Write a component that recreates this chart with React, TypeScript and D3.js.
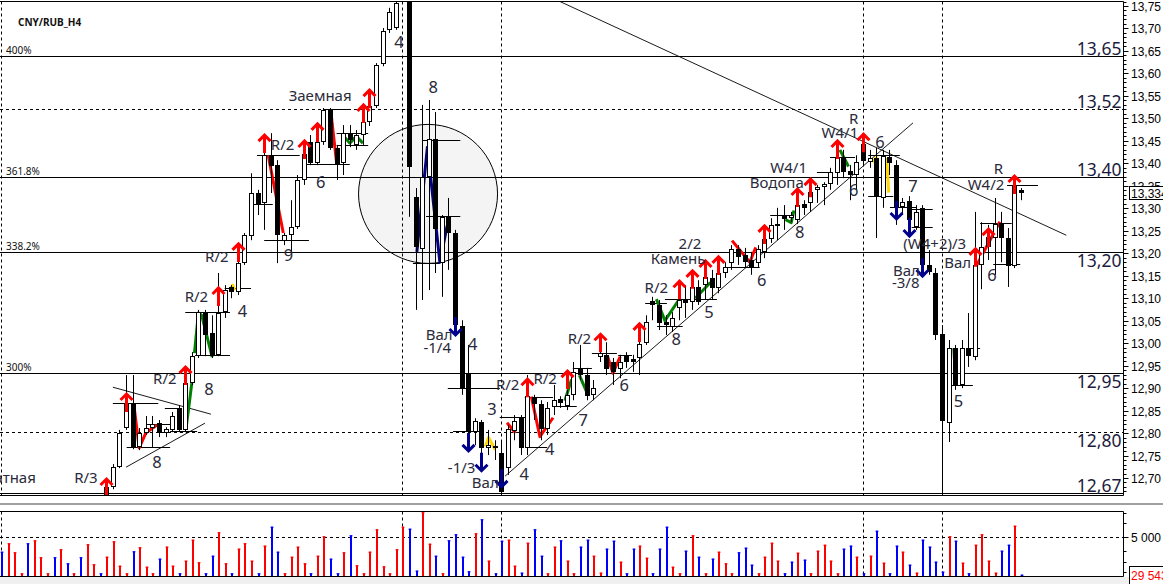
import React from "react";
import * as d3 from "d3";

// ---------- DATA ----------
const START = 16; // first candle visible in the window
const candleOpen = [12.660,12.680,12.724,12.811,12.867,12.769,12.800,12.811,12.822,12.800,12.807,12.856,12.807,12.911,12.971,13.069,13.023,12.974,13.069,13.125,13.114,13.178,13.238,13.334,13.312,13.418,13.396,13.227,13.240,13.258,13.363,13.447,13.401,13.447,13.519,13.434,13.401,13.467,13.441,13.463,13.492,13.527,13.621,13.697,13.701,13.759,13.786,13.325,13.209,13.370,13.454,13.178,13.283,13.245,13.038,12.933,12.802,12.824,12.767,12.771,12.755,12.722,12.804,12.833,12.767,12.880,12.865,12.809,12.858,12.876,12.860,12.885,12.945,12.929,12.885,12.969,12.974,12.958,12.942,12.974,12.965,12.967,13.000,13.094,13.085,13.047,13.036,13.078,13.098,13.091,13.125,13.129,13.145,13.123,13.156,13.178,13.209,13.196,13.185,13.178,13.203,13.232,13.265,13.283,13.278,13.274,13.309,13.312,13.341,13.347,13.354,13.378,13.414,13.383,13.374,13.443,13.403,13.412,13.323,13.414,13.396,13.303,13.316,13.258,13.301,13.174,13.156,13.020,12.822,12.989,12.907,12.989,12.969,13.174,13.214,13.234,13.267,13.234,13.172,13.341];
const candleHigh = [12.687,12.731,12.807,12.929,12.929,12.811,12.838,12.838,12.829,12.813,12.847,12.862,12.929,12.980,13.074,13.074,13.062,13.156,13.129,13.129,13.196,13.245,13.378,13.341,13.425,13.467,13.407,13.245,13.318,13.374,13.430,13.463,13.452,13.523,13.523,13.441,13.485,13.485,13.474,13.501,13.534,13.623,13.701,13.746,13.774,13.819,13.797,13.345,13.530,13.541,13.514,13.285,13.323,13.252,13.051,12.996,12.833,12.829,12.807,12.784,12.784,12.818,12.840,12.840,12.929,12.885,12.873,12.869,12.907,12.882,12.896,12.958,12.996,12.945,12.918,12.996,13.002,12.967,12.974,12.980,12.974,13.014,13.062,13.103,13.096,13.062,13.069,13.107,13.129,13.140,13.140,13.163,13.163,13.174,13.180,13.218,13.218,13.212,13.203,13.218,13.240,13.278,13.301,13.307,13.292,13.314,13.318,13.345,13.352,13.358,13.390,13.434,13.430,13.396,13.418,13.452,13.430,13.434,13.430,13.430,13.407,13.323,13.327,13.307,13.307,13.207,13.167,13.040,13.007,12.996,13.007,13.067,13.292,13.269,13.263,13.323,13.292,13.256,13.356,13.345];
const candleLow = [12.655,12.675,12.722,12.807,12.764,12.762,12.796,12.769,12.791,12.791,12.802,12.802,12.802,12.907,12.967,12.971,12.967,12.971,13.056,13.100,13.107,13.174,13.229,13.285,13.252,13.334,13.178,13.218,13.200,13.254,13.352,13.396,13.396,13.441,13.430,13.363,13.374,13.436,13.430,13.441,13.483,13.523,13.616,13.690,13.697,13.757,13.281,13.074,13.096,13.118,13.156,13.103,13.163,13.029,12.885,12.784,12.773,12.722,12.751,12.740,12.651,12.707,12.784,12.751,12.751,12.829,12.784,12.796,12.840,12.856,12.851,12.873,12.918,12.873,12.873,12.958,12.929,12.907,12.922,12.945,12.936,12.929,12.996,13.051,13.029,13.018,13.025,13.051,13.056,13.074,13.085,13.096,13.096,13.111,13.145,13.163,13.174,13.167,13.152,13.169,13.189,13.223,13.229,13.252,13.269,13.265,13.285,13.292,13.312,13.307,13.341,13.352,13.367,13.318,13.341,13.396,13.390,13.234,13.301,13.374,13.263,13.285,13.263,13.252,13.167,13.152,13.007,12.662,12.780,12.896,12.900,12.947,12.962,13.120,13.185,13.152,13.180,13.125,13.167,13.318];
const candleClose = [12.680,12.724,12.800,12.867,12.769,12.800,12.811,12.820,12.800,12.809,12.838,12.807,12.911,12.971,13.069,13.018,12.971,13.067,13.118,13.114,13.178,13.240,13.334,13.307,13.418,13.394,13.240,13.240,13.258,13.363,13.421,13.401,13.447,13.519,13.434,13.398,13.467,13.452,13.463,13.492,13.527,13.619,13.694,13.737,13.757,13.808,13.392,13.214,13.370,13.454,13.254,13.281,13.245,13.040,12.900,12.802,12.827,12.767,12.773,12.767,12.669,12.809,12.827,12.767,12.882,12.865,12.809,12.856,12.873,12.867,12.885,12.936,12.929,12.882,12.900,12.978,12.942,12.936,12.958,12.958,12.958,12.998,13.047,13.085,13.045,13.040,13.056,13.096,13.089,13.125,13.091,13.147,13.123,13.156,13.169,13.209,13.192,13.180,13.169,13.209,13.232,13.263,13.261,13.276,13.285,13.307,13.301,13.336,13.347,13.354,13.381,13.412,13.381,13.374,13.403,13.405,13.412,13.327,13.416,13.401,13.303,13.314,13.274,13.292,13.174,13.158,13.018,12.827,12.989,12.907,12.989,12.971,13.174,13.214,13.236,13.265,13.234,13.172,13.352,13.334];

const volume = [3140,4230,3060,350,4230,4610,2420,350,2420,3450,1640,350,2420,4100,1510,350,2490,4480,1330,350,3190,3710,1200,350,2240,3790,1330,350,1980,4690,1770,350,2620,5650,1640,350,3530,4230,1980,350,3920,6370,3140,350,2490,3790,1640,350,2620,5130,2240,350,3060,5260,1380,350,3140,6030,1250,350,3450,6370,6110,690,8230,4170,2620,350,4610,5390,2490,610,5520,7330,1980,350,4560,4690,1330,430,4300,6030,2620,350,3790,4610,1980,350,3790,4690,2620,430,3530,4560,1850,350,3530,3920,2360,350,3530,6370,1200,350,3270,5260,2490,350,2240,3140,1640,350,3060,3660,1460,350,2490,4300,1980,350,1850,3010,2110,350,3270,4040,1980,350,3530,3920,2490,350,2620,5850,1720,350,3920,3140,1460,430,4690,3790,1850,560,5130,4560,1720,350,4040,5390,1980,430,3270,4040,6500,170];
const volumeColor = ("BRRRBRRRBR" + "BRBRRBRRRR" + "BRRRBRRBRR" + "RBBRRBRRRB" + "RBBRRRRBRR" + "BBRBRRRRRR" + "RRBBRRBRBB" + "BBRBRBBRRB" + "RBBRRBRRBB" + "RRBBRBBRRB" + "BBRRBRBRBR" + "RRBBBRRRRB" + "BRBRRRRRBB" + "RBRBRBBRBR" + "BBBBRBRBRR" + "RRBBRB").split("");

const priceTicks = d3.range(1266, 1377).map((k) => k / 100);
const volumeTicks = [550, 1850, 3230, 5000, 6810, 8100];

const levelPrice = [13.639, 13.521, 13.370, 13.203, 12.933, 12.802, 12.667];
const levelLabel = ["13,65", "13,52", "13,40", "13,20", "12,95", "12,80", "12,67"];
const levelDashed = [false, true, false, false, false, true, false];
const levelLabelBelow = [false, false, false, true, true, true, false];
const levelPercent = ["400%", "", "361.8%", "338.2%", "300%", "", ""];

const separatorIdx = [0, 61, 76, 131, 143];

const upArrowIdx = [16, 19, 28, 33, 36, 40, 46, 48, 55, 56, 80, 86, 91, 97, 103, 105, 107, 109, 116, 121, 123, 127, 131, 148, 150, 154];
const upArrowPrice = [12.700, 12.889, 12.949, 13.125, 13.223, 13.465, 13.452, 13.490, 13.532, 13.565, 12.922, 12.940, 13.022, 13.045, 13.140, 13.163, 13.185, 13.194, 13.263, 13.345, 13.367, 13.452, 13.467, 13.212, 13.256, 13.374];
const downArrowIdx = [69, 71, 73, 76, 136, 138, 140];
const downArrowPrice = [13.016, 12.758, 12.714, 12.678, 13.274, 13.236, 13.147];

const labels: [string, number, number][] = [
  ["R/3", 12.9, 12.702], ["8", 23.7, 12.736], ["R/2", 24.9, 12.922], ["8", 31.6, 12.9],
  ["R/2", 29.7, 13.105], ["4", 36.7, 13.072], ["R/2", 32.8, 13.194], ["9", 43.7, 13.198],
  ["R/2", 42.8, 13.442], ["6", 48.6, 13.359], ["Заемная", 48.5, 13.552], ["4", 60.5, 13.671],
  ["8", 65.7, 13.57], ["Вал", 66.6, 13.02], ["-1/4", 66.3, 12.992], ["4", 71.7, 13.0],
  ["3", 74.6, 12.855], ["-1/3", 70.0, 12.724], ["Вал", 73.6, 12.692], ["4", 79.5, 12.71],
  ["R/2", 77.0, 12.909], ["R/2", 82.7, 12.922], ["4", 83.4, 12.766], ["7", 88.5, 12.831],
  ["R/2", 87.9, 13.011], ["6", 94.7, 12.907], ["R/2", 99.6, 13.125], ["8", 102.6, 13.011],
  ["5", 107.6, 13.07], ["2/2", 104.7, 13.222], ["Камень", 102.9, 13.189], ["6", 115.6, 13.142],
  ["8", 121.4, 13.248], ["W4/1", 119.7, 13.392], ["Водопа", 117.9, 13.359], ["R", 129.6, 13.501],
  ["W4/1", 127.5, 13.47], ["6", 133.6, 13.448], ["6", 129.6, 13.342], ["7", 138.6, 13.35],
  ["(W4+2)/3", 141.9, 13.222], ["Вал", 137.6, 13.163], ["-3/8", 137.5, 13.137], ["Вал", 145.4, 13.181],
  ["5", 145.5, 12.873], ["6", 150.6, 13.152], ["R", 151.6, 13.389], ["W4/2", 149.7, 13.354],
];
const clippedLabel: [string, number, number] = ["Обратная", 5.3, 12.702];

const levelSegments: [number, number, number][] = [
  [17.0, 23.9, 12.867], [19.1, 25.7, 12.769], [24.9, 27.5, 12.856], [22.2, 25.7, 12.82], [25.7, 29.8, 12.804],
  [28, 34.8, 13.069], [29.5, 34.8, 12.974], [34, 38, 13.123], [38.9, 45.4, 13.418], [38.1, 41.3, 13.309],
  [40, 46.8, 13.229], [46.2, 53, 13.398], [49, 53, 13.521], [51, 55.8, 13.467], [51, 55.8, 13.441],
  [64.1, 69.8, 13.452], [64.6, 69.8, 13.283], [62.6, 66.7, 13.178], [67.9, 75.8, 12.9], [68.7, 73.3, 12.804],
  [75.8, 80.4, 12.836], [79.6, 83.9, 12.88], [84.5, 87.5, 12.86], [86.9, 89.8, 12.945], [79.9, 83, 12.769],
  [89.8, 93.6, 12.978], [93.8, 95.9, 12.974], [97.9, 101.2, 13.089], [99.7, 103.6, 13.038], [100.9, 108.8, 13.098],
  [110.5, 115.3, 13.169], [116.9, 120.4, 13.285], [124, 126, 13.381], [126, 129.8, 13.414], [131.8, 136.6, 13.418],
  [131.8, 135.6, 13.327], [135.1, 139.2, 13.303], [138.4, 141.6, 13.298], [138.4, 141.6, 13.258], [144.2, 147.7, 12.907],
  [146.8, 148.8, 12.989], [148.8, 153.6, 13.267], [150.8, 154.9, 13.176], [152.9, 157.6, 13.352],
];

const redPaths: [number, number][][] = [
  [[20.2, 12.862], [21, 12.767], [22, 12.8], [23.7, 12.818]],
  [[40.6, 13.418], [42.9, 13.245]],
  [[50.1, 13.519], [51, 13.401]],
  [[76.9, 12.823], [78.2, 12.8]],
  [[80.6, 12.881], [81.9, 12.792], [83.9, 12.834]],
  [[92.2, 12.97], [93, 12.933], [94.1, 12.97]],
  [[111.1, 13.228], [113.8, 13.18], [114.7, 13.213]],
  [[148.3, 13.174], [151.8, 13.27]],
];
const greenPaths: [number, number][][] = [
  [[28.1, 12.807], [29, 12.911]],
  [[29.4, 12.978], [30, 13.067], [30.5, 13.062], [32.1, 12.969]],
  [[52, 13.462], [53, 13.445], [54, 13.46], [55, 13.445]],
  [[85.7, 12.872], [86.7, 12.919]],
  [[87.9, 12.929], [89.2, 12.885]],
  [[99.6, 13.098], [100.9, 13.05], [103, 13.096]],
  [[105.5, 13.1], [106.5, 13.115], [107.8, 13.135]],
  [[119.2, 13.275], [120.1, 13.268], [120.5, 13.295]],
  [[127.5, 13.43], [128.8, 13.393]],
  [[144.8, 12.989], [145.1, 12.915]],
];
const bluePaths: [number, number][][] = [
  [[63.2, 13.203], [64.8, 13.436], [66.7, 13.18], [67.8, 13.261]],
];
const yellowPaths: [number, number][][] = [
  [[34.8, 13.118], [35.2, 13.129], [35.5, 13.118]],
  [[73.6, 12.77], [74.1, 12.79], [75.1, 12.763]],
  [[132.4, 13.403], [133.2, 13.415]],
  [[134.6, 13.412], [134.9, 13.335]],
];

const trendLines: [number, number][][] = [
  [[84.5, 13.763], [161.9, 13.24]],
  [[76.6, 12.704], [138.6, 13.49]],
  [[17.0, 12.902], [31.9, 12.842]],
  [[19.0, 12.724], [31.0, 12.822]],
];

const circleCenter: [number, number] = [64.9, 13.332];
const circleRadiusPrice = 0.1546;

const lastPrice = "13,334";
const lastVolume = "29 543";

// ---------- COMPONENT ----------
const FONT = "'Noto Sans', 'DejaVu Sans', sans-serif";
const AXFONT = "'Liberation Sans', Arial, sans-serif";

export default function App() {
  const W = 1163, H = 584;
  const right = 1123.5;
  const mainTop = 1.5, mainBottom = 495.5;
  const volTop = 511.5, volBottom = 576.5;

  const x = d3.scaleLinear().domain([0, 155]).range([1, 1020.9]);
  const y = d3.scaleLinear().domain([12.7, 13.75]).range([478, 6]);
  const vy = d3.scaleLinear().domain([0, 8400]).range([576, 511]);
  const line = d3.line<[number, number]>().x((d) => x(d[0])).y((d) => y(d[1]));
  const crisp = (v: number) => Math.round(v) + 0.5;
  const fmt = (v: number) => d3.format(".2f")(v).replace(".", ",");

  const candles = candleOpen.map((o, k) => ({
    i: START + k, o, h: candleHigh[k], l: candleLow[k], c: candleClose[k],
  }));

  const circleR = y(circleCenter[1] - circleRadiusPrice) - y(circleCenter[1]);

  return (
    <svg width={W} height={H} style={{ position: "absolute", left: 0, top: 0, display: "block", background: "#fff" }}>
      <defs>
        <clipPath id="mainClip"><rect x={0} y={2} width={right} height={mainBottom - 2} /></clipPath>
        <clipPath id="volClip"><rect x={0} y={volTop} width={right} height={volBottom - volTop} /></clipPath>
      </defs>
      <rect x={0} y={0} width={W} height={H} fill="#fff" />

      {/* main panel */}
      <g clipPath="url(#mainClip)">
        <circle cx={x(circleCenter[0])} cy={y(circleCenter[1])} r={circleR} fill="#f4f4f4" stroke="#000" strokeWidth={1} />
        {levelPrice.map((p, k) => (
          <line key={"lv" + k} x1={0} x2={right} y1={crisp(y(p))} y2={crisp(y(p))} stroke="#000" strokeWidth={1} strokeDasharray={levelDashed[k] ? "3,3" : undefined} />
        ))}
        {separatorIdx.map((i, k) => (
          <line key={"sp" + k} x1={crisp(x(i))} x2={crisp(x(i))} y1={mainTop} y2={mainBottom} stroke="#000" strokeDasharray="3,3" />
        ))}
        {trendLines.map((t, k) => (
          <path key={"tl" + k} d={line(t) || ""} stroke="#000" strokeWidth={0.9} fill="none" />
        ))}
        {levelSegments.map(([a, b, p], k) => (
          <line key={"sg" + k} x1={x(a)} x2={x(b)} y1={crisp(y(p))} y2={crisp(y(p))} stroke="#000" strokeWidth={1} />
        ))}
        {redPaths.map((pts, k) => <path key={"rp" + k} d={line(pts) || ""} stroke="#ff0000" strokeWidth={3} fill="none" strokeLinejoin="round" />)}
        {greenPaths.map((pts, k) => <path key={"gp" + k} d={line(pts) || ""} stroke="#008000" strokeWidth={3} fill="none" strokeLinejoin="round" />)}
        {bluePaths.map((pts, k) => <path key={"bp" + k} d={line(pts) || ""} stroke="#000080" strokeWidth={3} fill="none" strokeLinejoin="round" />)}
        {yellowPaths.map((pts, k) => <path key={"yp" + k} d={line(pts) || ""} stroke="#ffd700" strokeWidth={3} fill="none" strokeLinejoin="round" />)}

        {candles.map((d) => {
          const cx = Math.round(x(d.i));
          const top = Math.round(y(Math.max(d.o, d.c)));
          const bot = Math.round(y(Math.min(d.o, d.c)));
          const up = d.c >= d.o;
          const hgt = bot - top;
          return (
            <g key={"c" + d.i}>
              <line x1={cx + 0.5} x2={cx + 0.5} y1={y(d.h)} y2={y(d.l)} stroke="#000" strokeWidth={1} />
              {hgt < 2 ? (
                <rect x={cx - 2} y={top - 0.5} width={5} height={2} fill="#000" />
              ) : up ? (
                <rect x={cx - 1.5} y={top + 0.5} width={4} height={hgt - 1} fill="#fff" stroke="#000" strokeWidth={1} />
              ) : (
                <rect x={cx - 2} y={top} width={5} height={hgt} fill="#000" />
              )}
            </g>
          );
        })}

        {upArrowIdx.map((i, k) => {
          const cx = Math.round(x(i)) + 0.5;
          const ty = y(upArrowPrice[k]);
          return (
            <g key={"ua" + k} stroke="#ff0000" fill="none" strokeWidth={3}>
              <line x1={cx} x2={cx} y1={ty + 2} y2={ty + 19} />
              <path d={`M${cx - 6},${ty + 7} L${cx},${ty + 1} L${cx + 6},${ty + 7}`} strokeLinejoin="miter" />
            </g>
          );
        })}
        {downArrowIdx.map((i, k) => {
          const cx = Math.round(x(i)) + 0.5;
          const ty = y(downArrowPrice[k]);
          return (
            <g key={"da" + k} stroke="#00008b" fill="none" strokeWidth={3}>
              <line x1={cx} x2={cx} y1={ty - 2} y2={ty - 19} />
              <path d={`M${cx - 6},${ty - 7} L${cx},${ty - 1} L${cx + 6},${ty - 7}`} />
            </g>
          );
        })}

        {labels.map(([t, i, p], k) => (
          <text key={"lb" + k} x={x(i)} y={y(p)} textAnchor="middle" dominantBaseline="central"
            fontFamily={FONT} fontSize={/^\d$/.test(t) ? 16.5 : 15} fill="#2a2a3a">{t}</text>
        ))}
        <text x={x(clippedLabel[1])} y={y(clippedLabel[2])} textAnchor="end" dominantBaseline="central" fontFamily={FONT} fontSize={15} fill="#2a2a3a">{clippedLabel[0]}</text>

        {levelPrice.map((p, k) => (
          <text key={"ll" + k} x={right - 2} y={levelLabelBelow[k] ? y(p) + 15 : y(p) - 1} textAnchor="end"
            fontFamily={FONT} fontSize={17.5} fill="#1c1c40">{levelLabel[k]}</text>
        ))}
        {levelPrice.map((p, k) => levelPercent[k] ? (
          <text key={"lp" + k} x={6} y={y(p) - 2} fontFamily={FONT} fontSize={10} fill="#111">{levelPercent[k]}</text>
        ) : null)}
        <text x={18} y={26} fontFamily={FONT} fontSize={10} fontWeight="bold" fill="#111">CNY/RUB_H4</text>
      </g>

      {/* main frame */}
      <line x1={0} x2={right} y1={mainTop} y2={mainTop} stroke="#000" />
      <line x1={right} x2={right} y1={mainTop} y2={mainBottom} stroke="#000" />
      <line x1={0} x2={right} y1={mainBottom} y2={mainBottom} stroke="#000" />

      {/* price axis */}
      {priceTicks.map((p) => {
        const k = Math.round(p * 100);
        const yy = crisp(y(p));
        if (yy < 2 || yy > mainBottom) return null;
        const major = k % 5 === 0;
        return (
          <g key={"pt" + k}>
            <line x1={right} x2={right + (major ? 5 : 3)} y1={yy} y2={yy} stroke="#000" />
            {major ? (
              <text x={1131} y={yy} dominantBaseline="central" fontFamily={AXFONT} fontSize={12} fill="#000">{fmt(p)}</text>
            ) : null}
          </g>
        );
      })}
      <rect x={1129.5} y={186.5} width={40} height={13} fill="#fff" stroke="#000" />
      <text x={1131} y={193.5} dominantBaseline="central" fontFamily={AXFONT} fontSize={12} fill="#000">{lastPrice}</text>

      {/* splitter */}
      <rect x={0} y={503} width={W} height={2} fill="#a0a0a0" />

      {/* volume panel */}
      <g clipPath="url(#volClip)">
        <line x1={0} x2={right} y1={crisp(vy(5000))} y2={crisp(vy(5000))} stroke="#000" strokeDasharray="3,3" />
        {separatorIdx.map((i, k) => (
          <line key={"vs" + k} x1={crisp(x(i))} x2={crisp(x(i))} y1={volTop} y2={volBottom} stroke="#000" strokeDasharray="3,3" />
        ))}
        {volume.map((v, i) => {
          const cx = Math.round(x(i));
          const col = volumeColor[i] === "R" ? "#ff0000" : "#0000ff";
          const top = vy(v);
          return (
            <g key={"v" + i}>
              <rect x={cx} y={top} width={2} height={vy(0) - top} fill={col} />
              <rect x={cx - 0.5} y={top} width={3} height={1} fill={col} />
            </g>
          );
        })}
      </g>
      <line x1={0} x2={right} y1={volTop} y2={volTop} stroke="#000" />
      <line x1={right} x2={right} y1={volTop} y2={volBottom} stroke="#000" />
      <line x1={0} x2={right} y1={volBottom} y2={volBottom} stroke="#000" />
      <rect x={0} y={577} width={W} height={H - 577} fill="#f0f0f0" />
      {volumeTicks.map((v) => (
        <line key={"vt" + v} x1={right} x2={right + (v === 5000 ? 5 : 3)} y1={crisp(vy(v))} y2={crisp(vy(v))} stroke="#000" />
      ))}
      <text x={1131} y={crisp(vy(5000))} dominantBaseline="central" fontFamily={AXFONT} fontSize={12} fill="#000">5 000</text>
      <rect x={1129.5} y={566.5} width={40} height={18} fill="#fff" stroke="#000" />
      <text x={1131} y={576} dominantBaseline="central" fontFamily={AXFONT} fontSize={12} fill="#ff0000">{lastVolume}</text>
    </svg>
  );
}
